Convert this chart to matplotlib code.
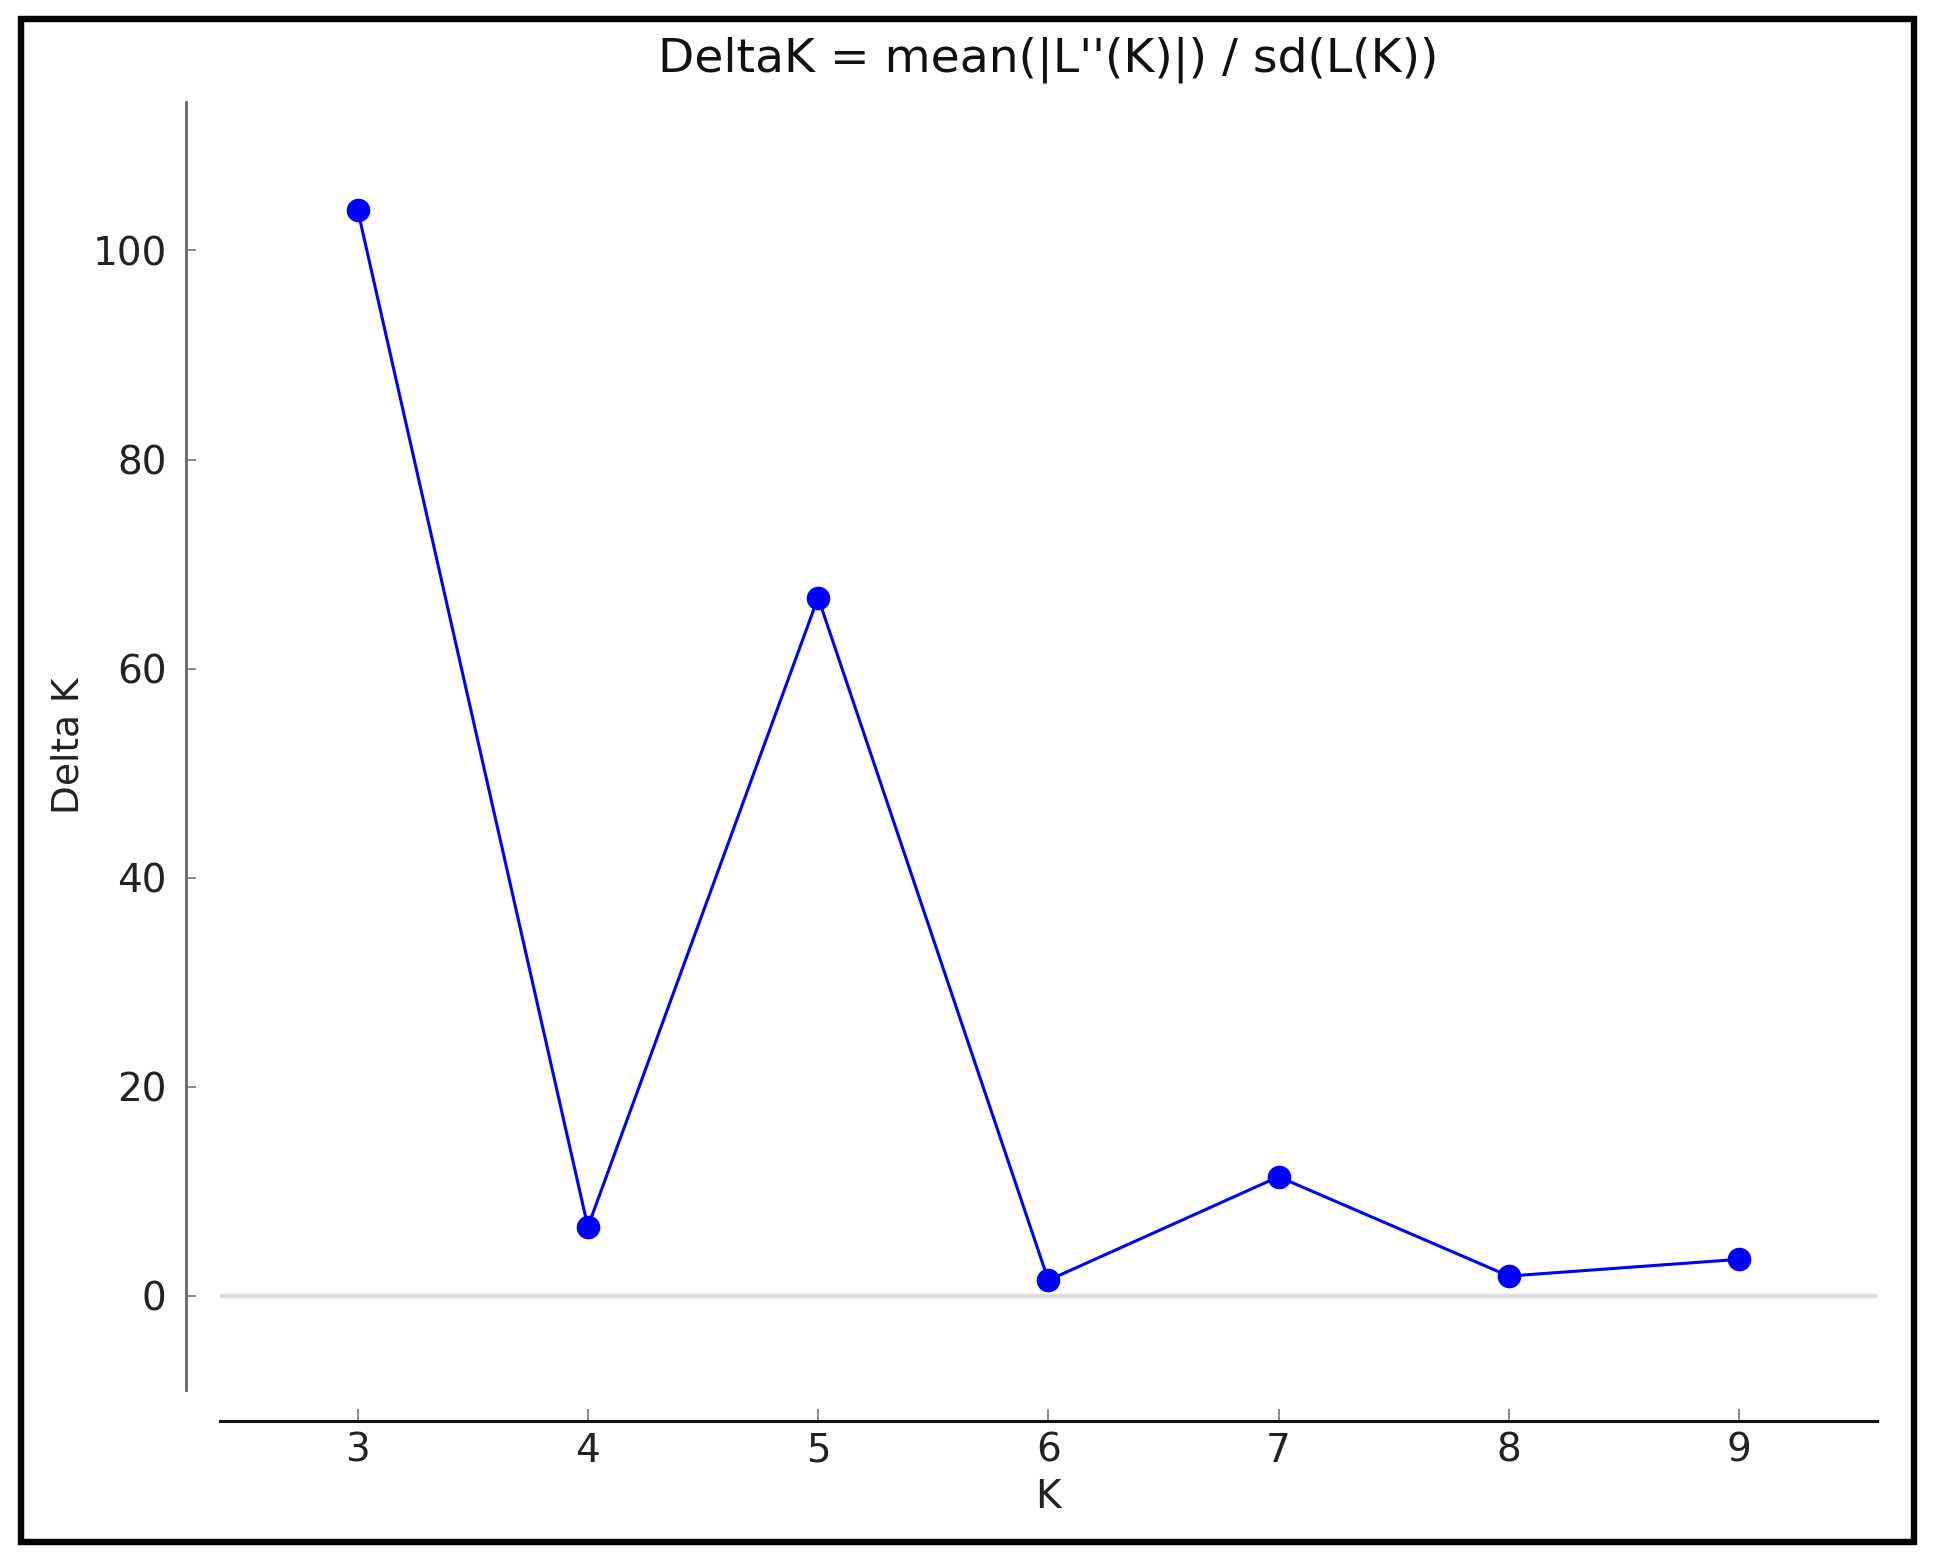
import matplotlib
matplotlib.use("Agg")
import matplotlib.pyplot as plt
from matplotlib.patches import Rectangle

# Evanno DeltaK values
k_values = [3, 4, 5, 6, 7, 8, 9]
delta_k = [103.9, 6.6, 66.8, 1.5, 11.4, 1.9, 3.5]
y_ticks = [0, 20, 40, 60, 80, 100]

fig = plt.figure(figsize=(9.67, 7.81), dpi=200)
ax = fig.add_axes([0.1135, 0.1101, 0.8571, 0.8246])

# light zero line across the full width
ax.axhline(0, color="#dddddd", lw=1.6, zorder=1)
ax.plot(k_values, delta_k, color="#0000ff", lw=1.1, marker="o",
        markersize=7.5, markeredgecolor="#0000ff", zorder=3)

ax.set_xlim(2.4, 9.6)
ax.set_ylim(-9, 114.2)
ax.set_xticks(k_values)
ax.set_yticks(y_ticks)

# offset spines, Harvester style
for side in ("top", "right"):
    ax.spines[side].set_visible(False)
ax.spines["left"].set_position(("outward", 12))
ax.spines["bottom"].set_position(("outward", 11))
ax.spines["left"].set_color("#666666")
ax.spines["left"].set_linewidth(1.0)
ax.spines["bottom"].set_color("#111111")
ax.spines["bottom"].set_linewidth(1.1)

ax.tick_params(direction="in", length=4.5, width=0.6, color="#777777",
               labelsize=14, labelcolor="#222222")
ax.tick_params(axis="x", pad=4)
ax.tick_params(axis="y", length=3.5, pad=7)

ax.set_title("DeltaK = mean(|L''(K)|) / sd(L(K))", fontsize=17, pad=11,
             color="#111111")
ax.set_xlabel("K", fontsize=14, color="#222222", labelpad=3)
ax.set_ylabel("Delta K", fontsize=13.5, color="#222222", labelpad=2)

# black frame round the whole figure
fig.patches.append(Rectangle((0.0108, 0.0128), 0.9789, 0.9752,
                             transform=fig.transFigure, fill=False,
                             edgecolor="black", lw=2.3))

fig.savefig("out.png", dpi=200)
